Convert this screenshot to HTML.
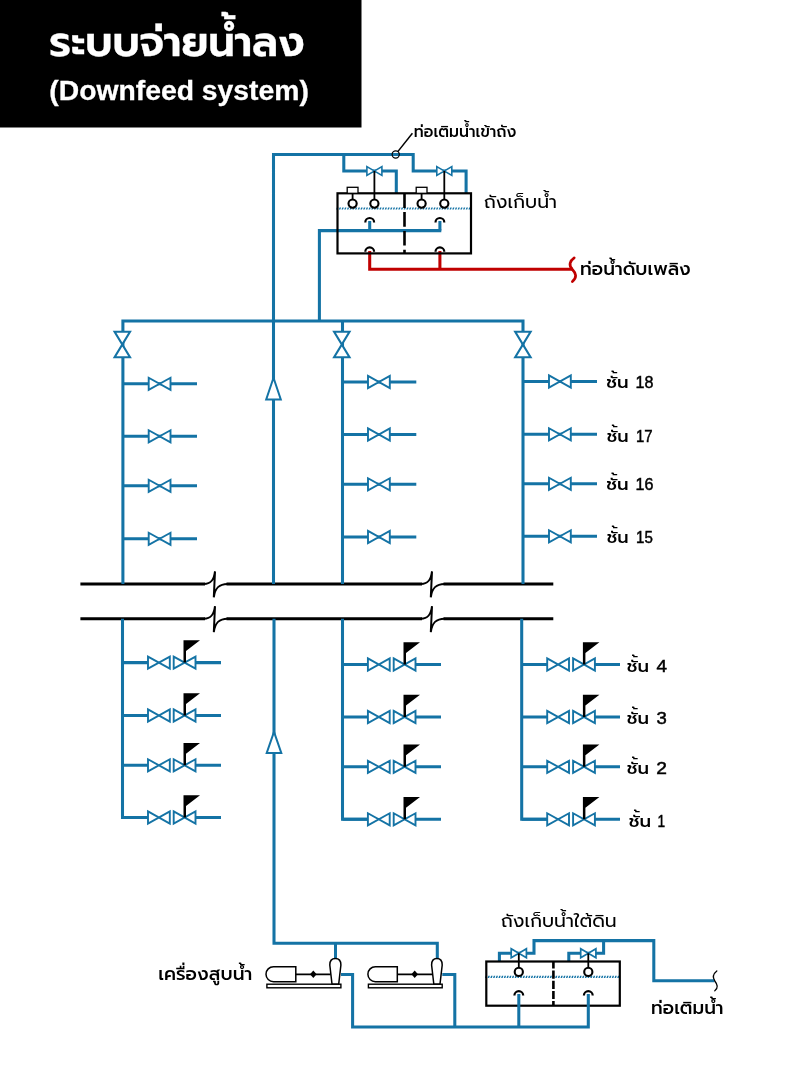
<!DOCTYPE html>
<html lang="th">
<head>
<meta charset="utf-8">
<title>ระบบจ่ายน้ำลง (Downfeed system)</title>
<style>
html,body{margin:0;padding:0;background:#fff;}
body{width:800px;height:1067px;overflow:hidden;}
svg{display:block;will-change:transform;}
text{font-family:"Liberation Sans","Prompt","Kanit","Noto Sans Thai",sans-serif;}
</style>
</head>
<body>
<svg width="800" height="1067" viewBox="0 0 800 1067">
<rect width="800" height="1067" fill="#fff"/>
<rect x="0" y="0" width="361.5" height="127.5" fill="#000"/>
<path d="M80.4,583.9 H205 M226.5,583.9 H422 M443.5,583.9 H553.3" stroke="#000" stroke-width="3" fill="none"/>
<path d="M204,583.9 C211,583.9 214,579.9 215,571.4 L213.8,597.4 C215,587.9 219,583.9 227.5,583.9" stroke="#000" stroke-width="2" fill="none" stroke-linejoin="miter" stroke-miterlimit="10"/>
<path d="M421,583.9 C428,583.9 431,579.9 432,571.4 L430.8,597.4 C432,587.9 436,583.9 444.5,583.9" stroke="#000" stroke-width="2" fill="none" stroke-linejoin="miter" stroke-miterlimit="10"/>
<path d="M80.4,618.7 H205 M226.5,618.7 H422 M443.5,618.7 H553.3" stroke="#000" stroke-width="3" fill="none"/>
<path d="M204,618.7 C211,618.7 214,614.7 215,606.2 L213.8,632.2 C215,622.7 219,618.7 227.5,618.7" stroke="#000" stroke-width="2" fill="none" stroke-linejoin="miter" stroke-miterlimit="10"/>
<path d="M421,618.7 C428,618.7 431,614.7 432,606.2 L430.8,632.2 C432,622.7 436,618.7 444.5,618.7" stroke="#000" stroke-width="2" fill="none" stroke-linejoin="miter" stroke-miterlimit="10"/>
<path d="M273.5,583.9 V154.5 H413.2 V171 H466.1 V193.3" fill="none" stroke="#1473a5" stroke-width="3.05" stroke-linejoin="miter" stroke-linecap="butt" />
<path d="M343.8,154.5 V171 H396.3 V193.3" fill="none" stroke="#1473a5" stroke-width="3.05" stroke-linejoin="miter" stroke-linecap="butt" />
<path d="M369.7,221 V230.6" fill="none" stroke="#1473a5" stroke-width="3.05" stroke-linejoin="miter" stroke-linecap="butt" />
<path d="M439.9,221 V230.6" fill="none" stroke="#1473a5" stroke-width="3.05" stroke-linejoin="miter" stroke-linecap="butt" />
<path d="M441.3,230.6 H319.4 V321" fill="none" stroke="#1473a5" stroke-width="3.05" stroke-linejoin="miter" stroke-linecap="butt" />
<path d="M369.7,251 V269.2 H573" fill="none" stroke="#c00000" stroke-width="3.05" stroke-linejoin="miter" stroke-linecap="butt" />
<path d="M439.9,251 V269.2" fill="none" stroke="#c00000" stroke-width="3.05" stroke-linejoin="miter" stroke-linecap="butt" />
<path d="M574.2,257.8 C569.6,261 568.6,265.2 572.2,269.2 C576.2,273.4 577.2,277.4 572.4,281.6" fill="none" stroke="#c00000" stroke-width="2.7" stroke-linecap="round"/>
<path d="M336.5,208.5 H471" stroke="#1473a5" stroke-width="2.1" stroke-dasharray="1.5 1.2" fill="none" transform="translate(0 208.5) skewX(-20) translate(0 -208.5)"/>
<rect x="337.5" y="193.3" width="133.50" height="60.10" fill="none" stroke="#000" stroke-width="2.2"/>
<path d="M404.5,193.3 V253.4" stroke="#000" stroke-width="2.6" stroke-dasharray="14.6 4.2" stroke-dashoffset="0" fill="none"/>
<path d="M366.90,166.60 L381.90,175.40 L381.90,166.60 L366.90,175.40 Z" fill="#fff" stroke="#1473a5" stroke-width="1.6" stroke-linejoin="miter"/>
<path d="M374.4,171 V200" stroke="#000" stroke-width="1.8" fill="none"/>
<circle cx="374.4" cy="203.6" r="4.1" fill="#fff" stroke="#000" stroke-width="2.1"/>
<path d="M436.80,166.60 L451.80,175.40 L451.80,166.60 L436.80,175.40 Z" fill="#fff" stroke="#1473a5" stroke-width="1.6" stroke-linejoin="miter"/>
<path d="M444.3,171 V200" stroke="#000" stroke-width="1.8" fill="none"/>
<circle cx="444.3" cy="203.6" r="4.1" fill="#fff" stroke="#000" stroke-width="2.1"/>
<rect x="347.20" y="187.3" width="10.8" height="6" fill="#fff" stroke="#000" stroke-width="1.3"/>
<path d="M352.6,194 V200" stroke="#000" stroke-width="1.8" fill="none"/>
<circle cx="352.6" cy="203.6" r="4.1" fill="#fff" stroke="#000" stroke-width="2.1"/>
<rect x="416.20" y="187.3" width="10.8" height="6" fill="#fff" stroke="#000" stroke-width="1.3"/>
<path d="M421.6,194 V200" stroke="#000" stroke-width="1.8" fill="none"/>
<circle cx="421.6" cy="203.6" r="4.1" fill="#fff" stroke="#000" stroke-width="2.1"/>
<path d="M365.3,222.4 A4.4,4.4 0 0 1 374.09999999999997,222.4" fill="none" stroke="#000" stroke-width="2.2"/>
<path d="M365.3,251.8 A4.4,4.4 0 0 1 374.09999999999997,251.8" fill="none" stroke="#000" stroke-width="2.2"/>
<path d="M435.5,222.4 A4.4,4.4 0 0 1 444.29999999999995,222.4" fill="none" stroke="#000" stroke-width="2.2"/>
<path d="M435.5,251.8 A4.4,4.4 0 0 1 444.29999999999995,251.8" fill="none" stroke="#000" stroke-width="2.2"/>
<circle cx="395.7" cy="154.5" r="3.6" fill="none" stroke="#000" stroke-width="1.2"/>
<path d="M397.8,151.6 L412.4,133.2" stroke="#000" stroke-width="1.5" fill="none"/>
<path d="M122.9,583.9 V321 H523 V583.9" fill="none" stroke="#1473a5" stroke-width="3.05" stroke-linejoin="miter" stroke-linecap="butt" />
<path d="M342.5,321 V583.9" fill="none" stroke="#1473a5" stroke-width="3.05" stroke-linejoin="miter" stroke-linecap="butt" />
<path d="M114.60,331.80 L130.00,331.80 L114.60,357.20 L130.00,357.20 Z" fill="#fff" stroke="#1473a5" stroke-width="2.1" stroke-linejoin="miter"/>
<path d="M334.10,331.80 L349.50,331.80 L334.10,357.20 L349.50,357.20 Z" fill="#fff" stroke="#1473a5" stroke-width="2.1" stroke-linejoin="miter"/>
<path d="M515.20,331.80 L530.60,331.80 L515.20,357.20 L530.60,357.20 Z" fill="#fff" stroke="#1473a5" stroke-width="2.1" stroke-linejoin="miter"/>
<path d="M122.9,383.8 H197" fill="none" stroke="#1473a5" stroke-width="3.05" stroke-linejoin="miter" stroke-linecap="butt" />
<path d="M148.70,377.75 L170.50,389.85 L170.50,377.75 L148.70,389.85 Z" fill="#fff" stroke="#1473a5" stroke-width="1.9" stroke-linejoin="miter"/>
<path d="M122.9,436.3 H197" fill="none" stroke="#1473a5" stroke-width="3.05" stroke-linejoin="miter" stroke-linecap="butt" />
<path d="M148.70,430.25 L170.50,442.35 L170.50,430.25 L148.70,442.35 Z" fill="#fff" stroke="#1473a5" stroke-width="1.9" stroke-linejoin="miter"/>
<path d="M122.9,485.8 H197" fill="none" stroke="#1473a5" stroke-width="3.05" stroke-linejoin="miter" stroke-linecap="butt" />
<path d="M148.70,479.75 L170.50,491.85 L170.50,479.75 L148.70,491.85 Z" fill="#fff" stroke="#1473a5" stroke-width="1.9" stroke-linejoin="miter"/>
<path d="M122.9,538.8 H197" fill="none" stroke="#1473a5" stroke-width="3.05" stroke-linejoin="miter" stroke-linecap="butt" />
<path d="M148.70,532.75 L170.50,544.85 L170.50,532.75 L148.70,544.85 Z" fill="#fff" stroke="#1473a5" stroke-width="1.9" stroke-linejoin="miter"/>
<path d="M342.5,382 H416.3" fill="none" stroke="#1473a5" stroke-width="3.05" stroke-linejoin="miter" stroke-linecap="butt" />
<path d="M368.00,375.95 L389.80,388.05 L389.80,375.95 L368.00,388.05 Z" fill="#fff" stroke="#1473a5" stroke-width="1.9" stroke-linejoin="miter"/>
<path d="M342.5,434.5 H416.3" fill="none" stroke="#1473a5" stroke-width="3.05" stroke-linejoin="miter" stroke-linecap="butt" />
<path d="M368.00,428.45 L389.80,440.55 L389.80,428.45 L368.00,440.55 Z" fill="#fff" stroke="#1473a5" stroke-width="1.9" stroke-linejoin="miter"/>
<path d="M342.5,484.3 H416.3" fill="none" stroke="#1473a5" stroke-width="3.05" stroke-linejoin="miter" stroke-linecap="butt" />
<path d="M368.00,478.25 L389.80,490.35 L389.80,478.25 L368.00,490.35 Z" fill="#fff" stroke="#1473a5" stroke-width="1.9" stroke-linejoin="miter"/>
<path d="M342.5,537 H416.3" fill="none" stroke="#1473a5" stroke-width="3.05" stroke-linejoin="miter" stroke-linecap="butt" />
<path d="M368.00,530.95 L389.80,543.05 L389.80,530.95 L368.00,543.05 Z" fill="#fff" stroke="#1473a5" stroke-width="1.9" stroke-linejoin="miter"/>
<path d="M523,381.5 H597" fill="none" stroke="#1473a5" stroke-width="3.05" stroke-linejoin="miter" stroke-linecap="butt" />
<path d="M549.00,375.45 L570.80,387.55 L570.80,375.45 L549.00,387.55 Z" fill="#fff" stroke="#1473a5" stroke-width="1.9" stroke-linejoin="miter"/>
<path d="M523,434.3 H597" fill="none" stroke="#1473a5" stroke-width="3.05" stroke-linejoin="miter" stroke-linecap="butt" />
<path d="M549.00,428.25 L570.80,440.35 L570.80,428.25 L549.00,440.35 Z" fill="#fff" stroke="#1473a5" stroke-width="1.9" stroke-linejoin="miter"/>
<path d="M523,483.8 H597" fill="none" stroke="#1473a5" stroke-width="3.05" stroke-linejoin="miter" stroke-linecap="butt" />
<path d="M549.00,477.75 L570.80,489.85 L570.80,477.75 L549.00,489.85 Z" fill="#fff" stroke="#1473a5" stroke-width="1.9" stroke-linejoin="miter"/>
<path d="M523,536.3 H597" fill="none" stroke="#1473a5" stroke-width="3.05" stroke-linejoin="miter" stroke-linecap="butt" />
<path d="M549.00,530.25 L570.80,542.35 L570.80,530.25 L549.00,542.35 Z" fill="#fff" stroke="#1473a5" stroke-width="1.9" stroke-linejoin="miter"/>
<path d="M274,618.7 V943.3 H437.3 V959" fill="none" stroke="#1473a5" stroke-width="3.05" stroke-linejoin="miter" stroke-linecap="butt" />
<path d="M335.5,943.3 V959" fill="none" stroke="#1473a5" stroke-width="3.05" stroke-linejoin="miter" stroke-linecap="butt" />
<path d="M273.5,377.80 L280.80,399.50 L266.20,399.50 Z" fill="#fff" stroke="#1473a5" stroke-width="2" stroke-linejoin="miter" stroke-miterlimit="10"/>
<path d="M274,731.80 L281.30,753.00 L266.70,753.00 Z" fill="#fff" stroke="#1473a5" stroke-width="2" stroke-linejoin="miter" stroke-miterlimit="10"/>
<path d="M122.5,618.7 V817.5 H148.9" fill="none" stroke="#1473a5" stroke-width="3.05" stroke-linejoin="miter" stroke-linecap="butt" />
<path d="M122.5,662.6 H148.9 M194.6,662.6 H221" fill="none" stroke="#1473a5" stroke-width="3.05" stroke-linejoin="miter" stroke-linecap="butt" />
<path d="M122.5,715.5 H148.9 M194.6,715.5 H221" fill="none" stroke="#1473a5" stroke-width="3.05" stroke-linejoin="miter" stroke-linecap="butt" />
<path d="M122.5,765.3 H148.9 M194.6,765.3 H221" fill="none" stroke="#1473a5" stroke-width="3.05" stroke-linejoin="miter" stroke-linecap="butt" />
<path d="M122.5,817.5 H148.9 M194.6,817.5 H221" fill="none" stroke="#1473a5" stroke-width="3.05" stroke-linejoin="miter" stroke-linecap="butt" />
<path d="M148.00,656.55 L169.80,668.65 L169.80,656.55 L148.00,668.65 Z" fill="#fff" stroke="#1473a5" stroke-width="1.9" stroke-linejoin="miter"/>
<path d="M173.70,656.55 L195.50,668.65 L195.50,656.55 L173.70,668.65 Z" fill="#fff" stroke="#1473a5" stroke-width="1.9" stroke-linejoin="miter"/>
<path d="M183.50,662.60 L183.50,640.30 L200.00,640.30 L186.00,651.10 L186.00,662.60 Z" fill="#000"/>
<path d="M148.00,709.45 L169.80,721.55 L169.80,709.45 L148.00,721.55 Z" fill="#fff" stroke="#1473a5" stroke-width="1.9" stroke-linejoin="miter"/>
<path d="M173.70,709.45 L195.50,721.55 L195.50,709.45 L173.70,721.55 Z" fill="#fff" stroke="#1473a5" stroke-width="1.9" stroke-linejoin="miter"/>
<path d="M183.50,715.50 L183.50,693.20 L200.00,693.20 L186.00,704.00 L186.00,715.50 Z" fill="#000"/>
<path d="M148.00,759.25 L169.80,771.35 L169.80,759.25 L148.00,771.35 Z" fill="#fff" stroke="#1473a5" stroke-width="1.9" stroke-linejoin="miter"/>
<path d="M173.70,759.25 L195.50,771.35 L195.50,759.25 L173.70,771.35 Z" fill="#fff" stroke="#1473a5" stroke-width="1.9" stroke-linejoin="miter"/>
<path d="M183.50,765.30 L183.50,743.00 L200.00,743.00 L186.00,753.80 L186.00,765.30 Z" fill="#000"/>
<path d="M148.00,811.45 L169.80,823.55 L169.80,811.45 L148.00,823.55 Z" fill="#fff" stroke="#1473a5" stroke-width="1.9" stroke-linejoin="miter"/>
<path d="M173.70,811.45 L195.50,823.55 L195.50,811.45 L173.70,823.55 Z" fill="#fff" stroke="#1473a5" stroke-width="1.9" stroke-linejoin="miter"/>
<path d="M183.50,817.50 L183.50,795.20 L200.00,795.20 L186.00,806.00 L186.00,817.50 Z" fill="#000"/>
<path d="M342.5,618.7 V819.3 H368.8" fill="none" stroke="#1473a5" stroke-width="3.05" stroke-linejoin="miter" stroke-linecap="butt" />
<path d="M342.5,664.5 H368.8 M414.6,664.5 H441" fill="none" stroke="#1473a5" stroke-width="3.05" stroke-linejoin="miter" stroke-linecap="butt" />
<path d="M342.5,717 H368.8 M414.6,717 H441" fill="none" stroke="#1473a5" stroke-width="3.05" stroke-linejoin="miter" stroke-linecap="butt" />
<path d="M342.5,766.8 H368.8 M414.6,766.8 H441" fill="none" stroke="#1473a5" stroke-width="3.05" stroke-linejoin="miter" stroke-linecap="butt" />
<path d="M342.5,819.3 H368.8 M414.6,819.3 H441" fill="none" stroke="#1473a5" stroke-width="3.05" stroke-linejoin="miter" stroke-linecap="butt" />
<path d="M367.90,658.45 L389.70,670.55 L389.70,658.45 L367.90,670.55 Z" fill="#fff" stroke="#1473a5" stroke-width="1.9" stroke-linejoin="miter"/>
<path d="M393.70,658.45 L415.50,670.55 L415.50,658.45 L393.70,670.55 Z" fill="#fff" stroke="#1473a5" stroke-width="1.9" stroke-linejoin="miter"/>
<path d="M403.50,664.50 L403.50,642.20 L420.00,642.20 L406.00,653.00 L406.00,664.50 Z" fill="#000"/>
<path d="M367.90,710.95 L389.70,723.05 L389.70,710.95 L367.90,723.05 Z" fill="#fff" stroke="#1473a5" stroke-width="1.9" stroke-linejoin="miter"/>
<path d="M393.70,710.95 L415.50,723.05 L415.50,710.95 L393.70,723.05 Z" fill="#fff" stroke="#1473a5" stroke-width="1.9" stroke-linejoin="miter"/>
<path d="M403.50,717.00 L403.50,694.70 L420.00,694.70 L406.00,705.50 L406.00,717.00 Z" fill="#000"/>
<path d="M367.90,760.75 L389.70,772.85 L389.70,760.75 L367.90,772.85 Z" fill="#fff" stroke="#1473a5" stroke-width="1.9" stroke-linejoin="miter"/>
<path d="M393.70,760.75 L415.50,772.85 L415.50,760.75 L393.70,772.85 Z" fill="#fff" stroke="#1473a5" stroke-width="1.9" stroke-linejoin="miter"/>
<path d="M403.50,766.80 L403.50,744.50 L420.00,744.50 L406.00,755.30 L406.00,766.80 Z" fill="#000"/>
<path d="M367.90,813.25 L389.70,825.35 L389.70,813.25 L367.90,825.35 Z" fill="#fff" stroke="#1473a5" stroke-width="1.9" stroke-linejoin="miter"/>
<path d="M393.70,813.25 L415.50,825.35 L415.50,813.25 L393.70,825.35 Z" fill="#fff" stroke="#1473a5" stroke-width="1.9" stroke-linejoin="miter"/>
<path d="M403.50,819.30 L403.50,797.00 L420.00,797.00 L406.00,807.80 L406.00,819.30 Z" fill="#000"/>
<path d="M521.7,618.7 V819.3 H548.1" fill="none" stroke="#1473a5" stroke-width="3.05" stroke-linejoin="miter" stroke-linecap="butt" />
<path d="M521.7,664.5 H548.1 M594,664.5 H620" fill="none" stroke="#1473a5" stroke-width="3.05" stroke-linejoin="miter" stroke-linecap="butt" />
<path d="M521.7,717 H548.1 M594,717 H620" fill="none" stroke="#1473a5" stroke-width="3.05" stroke-linejoin="miter" stroke-linecap="butt" />
<path d="M521.7,766.8 H548.1 M594,766.8 H620" fill="none" stroke="#1473a5" stroke-width="3.05" stroke-linejoin="miter" stroke-linecap="butt" />
<path d="M521.7,819.3 H548.1 M594,819.3 H620" fill="none" stroke="#1473a5" stroke-width="3.05" stroke-linejoin="miter" stroke-linecap="butt" />
<path d="M547.20,658.45 L569.00,670.55 L569.00,658.45 L547.20,670.55 Z" fill="#fff" stroke="#1473a5" stroke-width="1.9" stroke-linejoin="miter"/>
<path d="M573.10,658.45 L594.90,670.55 L594.90,658.45 L573.10,670.55 Z" fill="#fff" stroke="#1473a5" stroke-width="1.9" stroke-linejoin="miter"/>
<path d="M582.90,664.50 L582.90,642.20 L599.40,642.20 L585.40,653.00 L585.40,664.50 Z" fill="#000"/>
<path d="M547.20,710.95 L569.00,723.05 L569.00,710.95 L547.20,723.05 Z" fill="#fff" stroke="#1473a5" stroke-width="1.9" stroke-linejoin="miter"/>
<path d="M573.10,710.95 L594.90,723.05 L594.90,710.95 L573.10,723.05 Z" fill="#fff" stroke="#1473a5" stroke-width="1.9" stroke-linejoin="miter"/>
<path d="M582.90,717.00 L582.90,694.70 L599.40,694.70 L585.40,705.50 L585.40,717.00 Z" fill="#000"/>
<path d="M547.20,760.75 L569.00,772.85 L569.00,760.75 L547.20,772.85 Z" fill="#fff" stroke="#1473a5" stroke-width="1.9" stroke-linejoin="miter"/>
<path d="M573.10,760.75 L594.90,772.85 L594.90,760.75 L573.10,772.85 Z" fill="#fff" stroke="#1473a5" stroke-width="1.9" stroke-linejoin="miter"/>
<path d="M582.90,766.80 L582.90,744.50 L599.40,744.50 L585.40,755.30 L585.40,766.80 Z" fill="#000"/>
<path d="M547.20,813.25 L569.00,825.35 L569.00,813.25 L547.20,825.35 Z" fill="#fff" stroke="#1473a5" stroke-width="1.9" stroke-linejoin="miter"/>
<path d="M573.10,813.25 L594.90,825.35 L594.90,813.25 L573.10,825.35 Z" fill="#fff" stroke="#1473a5" stroke-width="1.9" stroke-linejoin="miter"/>
<path d="M582.90,819.30 L582.90,797.00 L599.40,797.00 L585.40,807.80 L585.40,819.30 Z" fill="#000"/>
<path d="M442.3,974.4 H454.8 V1027" fill="none" stroke="#1473a5" stroke-width="3.05" stroke-linejoin="miter" stroke-linecap="butt" />
<path d="M499.4,961.5 V953.3 H534 V940.6 H653.8 V980.8 H714.5" fill="none" stroke="#1473a5" stroke-width="3.05" stroke-linejoin="miter" stroke-linecap="butt" />
<path d="M568.8,961.5 V953.3 H603.6 V940.6" fill="none" stroke="#1473a5" stroke-width="3.05" stroke-linejoin="miter" stroke-linecap="butt" />
<path d="M485.3,976.9 H619.8" stroke="#1473a5" stroke-width="2.1" stroke-dasharray="1.5 1.2" fill="none" transform="translate(0 976.9) skewX(-20) translate(0 -976.9)"/>
<rect x="486.3" y="961.5" width="133.50" height="44.20" fill="none" stroke="#000" stroke-width="2.2"/>
<path d="M553.4,961.5 V1005.7" stroke="#000" stroke-width="2.6" stroke-dasharray="8.2 2" stroke-dashoffset="1.2" fill="none"/>
<path d="M341,974.4 H352.6 V1027 H588.3 V994" fill="none" stroke="#1473a5" stroke-width="3.05" stroke-linejoin="miter" stroke-linecap="butt" />
<path d="M518.8,994 V1027" fill="none" stroke="#1473a5" stroke-width="3.05" stroke-linejoin="miter" stroke-linecap="butt" />
<path d="M511.20,948.80 L526.40,957.80 L526.40,948.80 L511.20,957.80 Z" fill="#fff" stroke="#1473a5" stroke-width="1.7" stroke-linejoin="miter"/>
<path d="M518.8,953.3 V968" stroke="#000" stroke-width="1.8" fill="none"/>
<circle cx="518.8" cy="971.9" r="4.1" fill="#fff" stroke="#000" stroke-width="2.1"/>
<path d="M514.4,995.6 A4.4,4.4 0 0 1 523.1999999999999,995.6" fill="none" stroke="#000" stroke-width="2.2"/>
<path d="M580.70,948.80 L595.90,957.80 L595.90,948.80 L580.70,957.80 Z" fill="#fff" stroke="#1473a5" stroke-width="1.7" stroke-linejoin="miter"/>
<path d="M588.3,953.3 V968" stroke="#000" stroke-width="1.8" fill="none"/>
<circle cx="588.3" cy="971.9" r="4.1" fill="#fff" stroke="#000" stroke-width="2.1"/>
<path d="M583.9,995.6 A4.4,4.4 0 0 1 592.6999999999999,995.6" fill="none" stroke="#000" stroke-width="2.2"/>
<rect x="266.9" y="984.2" width="74.00" height="3.6" fill="#fff" stroke="#000" stroke-width="1.4"/>
<path d="M295.8,966.7 H273.5 A7.5,7.5 0 0 0 273.5,981.7 H295.8 Z" fill="#fff" stroke="#000" stroke-width="1.5"/>
<path d="M295.8,974.3 H330.8" stroke="#000" stroke-width="1.8" fill="none"/>
<path d="M310.0,974.3 L313.3,970.6 L316.6,974.3 L313.3,978 Z" fill="#000"/>
<path d="M332.00,984 L329.80,965 C329.80,960.5 332.35,958.6 335.35,958.6 C338.35,958.6 340.90,960.5 340.90,965 L338.70,984 Z" fill="#fff" stroke="#000" stroke-width="1.5"/>
<rect x="368.4" y="984.2" width="73.80" height="3.6" fill="#fff" stroke="#000" stroke-width="1.4"/>
<path d="M397.3,966.7 H375.4 A7.5,7.5 0 0 0 375.4,981.7 H397.3 Z" fill="#fff" stroke="#000" stroke-width="1.5"/>
<path d="M397.3,974.3 H432.6" stroke="#000" stroke-width="1.8" fill="none"/>
<path d="M411.4,974.3 L414.7,970.6 L418.0,974.3 L414.7,978 Z" fill="#000"/>
<path d="M433.80,984 L431.60,965 C431.60,960.5 433.90,958.6 436.90,958.6 C439.90,958.6 442.20,960.5 442.20,965 L440.00,984 Z" fill="#fff" stroke="#000" stroke-width="1.5"/>
<path d="M716.8,971 C713,974 712.5,977.5 714.8,981 C717.5,984.5 718.5,988 714.8,990.8" fill="none" stroke="#000" stroke-width="1.3" stroke-linecap="round"/>
<text y="55.9" fill="#fff" x="49.32" font-size="41.65" font-weight="600" stroke="#fff" stroke-width="0.3" textLength="255.26" lengthAdjust="spacingAndGlyphs">ระบบจ่ายน้ำลง</text>
<text y="99.9" fill="#fff" x="49.32" font-size="27" font-weight="700" stroke="#fff" stroke-width="0.3" textLength="259.52" lengthAdjust="spacingAndGlyphs">(Downfeed system)</text>
<text y="136.8" fill="#000" x="413.88" font-size="15.5" font-weight="500" textLength="102.49" lengthAdjust="spacingAndGlyphs">ท่อเติมน้ำเข้าถัง</text>
<text y="208.1" fill="#000" x="483.71" font-size="18.7" font-weight="400" textLength="73.21" lengthAdjust="spacingAndGlyphs">ถังเก็บน้ำ</text>
<text y="275.2" fill="#000" x="580.10" font-size="18.4" font-weight="500" textLength="110.66" lengthAdjust="spacingAndGlyphs">ท่อน้ำดับเพลิง</text>
<text y="980.2" fill="#000" x="158.27" font-size="18.4" font-weight="500" textLength="93.95" lengthAdjust="spacingAndGlyphs">เครื่องสูบน้ำ</text>
<text y="927.1" fill="#000" x="500.77" font-size="18.7" font-weight="400" textLength="115.91" lengthAdjust="spacingAndGlyphs">ถังเก็บน้ำใต้ดิน</text>
<text y="1014.1" fill="#000" x="651.10" font-size="18.4" font-weight="500" textLength="72.44" lengthAdjust="spacingAndGlyphs">ท่อเติมน้ำ</text>
<text y="387.7" fill="#000"><tspan x="606.27" font-size="17.0" font-weight="500" textLength="22.25" lengthAdjust="spacingAndGlyphs">ชั้น</tspan> <tspan x="635.49" font-size="15.8" font-weight="400" stroke="#000" stroke-width="0.45" textLength="17.90" lengthAdjust="spacingAndGlyphs">18</tspan></text>
<text y="442.0" fill="#000"><tspan x="606.71" font-size="17.0" font-weight="500" textLength="21.76" lengthAdjust="spacingAndGlyphs">ชั้น</tspan> <tspan x="636.04" font-size="15.8" font-weight="400" stroke="#000" stroke-width="0.45" textLength="16.66" lengthAdjust="spacingAndGlyphs">17</tspan></text>
<text y="490.2" fill="#000"><tspan x="606.27" font-size="17.0" font-weight="500" textLength="22.25" lengthAdjust="spacingAndGlyphs">ชั้น</tspan> <tspan x="635.49" font-size="15.8" font-weight="400" stroke="#000" stroke-width="0.45" textLength="17.90" lengthAdjust="spacingAndGlyphs">16</tspan></text>
<text y="543.0" fill="#000"><tspan x="606.71" font-size="17.0" font-weight="500" textLength="21.76" lengthAdjust="spacingAndGlyphs">ชั้น</tspan> <tspan x="636.04" font-size="15.8" font-weight="400" stroke="#000" stroke-width="0.45" textLength="16.82" lengthAdjust="spacingAndGlyphs">15</tspan></text>
<text y="671.8" fill="#000"><tspan x="626.82" font-size="17.0" font-weight="500" textLength="22.13" lengthAdjust="spacingAndGlyphs">ชั้น</tspan> <tspan x="656.50" font-size="15.8" font-weight="400" stroke="#000" stroke-width="0.45" textLength="10.51" lengthAdjust="spacingAndGlyphs">4</tspan></text>
<text y="723.9" fill="#000"><tspan x="626.82" font-size="17.0" font-weight="500" textLength="22.13" lengthAdjust="spacingAndGlyphs">ชั้น</tspan> <tspan x="656.61" font-size="15.8" font-weight="400" stroke="#000" stroke-width="0.45" textLength="10.29" lengthAdjust="spacingAndGlyphs">3</tspan></text>
<text y="773.9" fill="#000"><tspan x="626.82" font-size="17.0" font-weight="500" textLength="22.13" lengthAdjust="spacingAndGlyphs">ชั้น</tspan> <tspan x="656.27" font-size="15.8" font-weight="400" stroke="#000" stroke-width="0.45" textLength="10.68" lengthAdjust="spacingAndGlyphs">2</tspan></text>
<text y="826.8" fill="#000"><tspan x="628.77" font-size="17.0" font-weight="500" textLength="22.25" lengthAdjust="spacingAndGlyphs">ชั้น</tspan> <tspan x="657.38" font-size="15.8" font-weight="400" stroke="#000" stroke-width="0.45" textLength="7.64" lengthAdjust="spacingAndGlyphs">1</tspan></text>
</svg>
</body>
</html>
